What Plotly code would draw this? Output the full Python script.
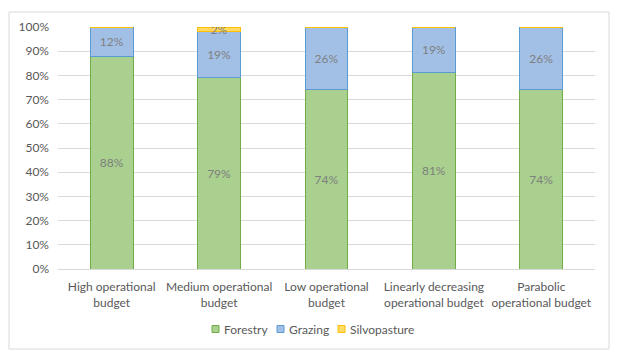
import plotly.graph_objects as go

categories = ["High operational<br>budget", "Medium operational<br>budget", "Low operational<br>budget",
              "Linearly decreasing<br>operational budget", "Parabolic<br>operational budget"]
forestry = [88, 79, 74, 81, 74]
grazing = [12, 19, 26, 19, 26]
silvopasture = [0, 2, 0, 0, 0]
y_ticks = list(range(0, 101, 10))
y_tick_labels = [f"{v}%" for v in y_ticks]

series = [
    ("Forestry", forestry, "#a9d08e", "#70ad47"),
    ("Grazing", grazing, "#a2c0e6", "#5b9bd5"),
    ("Silvopasture", silvopasture, "#ffd966", "#ffc000"),
]

FONT = "Lato"
GRAY = "#595959"

L, R, T, B = 58, 595, 27, 269
W, H = 621, 362
legend_square_px = [212, 277, 338]   # left edge of each legend key
LEG_Y = 329


def px_x(px):
    return (px - L) / (R - L)


def px_y(py):
    return (B - py) / (B - T)


fig = go.Figure()
shapes = [dict(type="rect", xref="paper", yref="paper",
               x0=px_x(9), x1=px_x(609), y0=px_y(349), y1=px_y(12),
               line=dict(color="#d9d9d9", width=1), fillcolor="rgba(0,0,0,0)",
               layer="below")]
annotations = []
for i, (name, vals, fill, line) in enumerate(series):
    fig.add_trace(go.Bar(
        x=categories, y=vals, name=name, showlegend=False,
        marker=dict(color=fill, line=dict(color=line, width=1)),
        text=[f"{v}%" if v > 0 else "" for v in vals],
        textposition="inside", insidetextanchor="middle",
        constraintext="none",
        textfont=dict(family=FONT, size=12, color="#7f7f7f"),
        hoverinfo="skip",
    ))
    sx = legend_square_px[i]
    shapes.append(dict(type="rect", xref="paper", yref="paper",
                       x0=px_x(sx), x1=px_x(sx + 7), y0=px_y(LEG_Y + 3.5), y1=px_y(LEG_Y - 3.5),
                       line=dict(color=line, width=1), fillcolor=fill))
    annotations.append(dict(text=name, xref="paper", yref="paper",
                            x=px_x(sx + 10), y=px_y(LEG_Y), xanchor="left", yanchor="middle",
                            showarrow=False, font=dict(family=FONT, size=12, color=GRAY)))

fig.update_layout(
    width=W, height=H,
    barmode="stack", bargap=0.6,
    margin=dict(l=L, r=W - R, t=T, b=H - B, autoexpand=False),
    plot_bgcolor="white", paper_bgcolor="white",
    font=dict(family=FONT, size=12, color=GRAY),
    showlegend=False,
    yaxis=dict(range=[0, 100], tickmode="array", tickvals=y_ticks, ticktext=y_tick_labels,
               showgrid=True, automargin=False, ticklabelstandoff=8,
               gridcolor="#d9d9d9", gridwidth=1, zeroline=False, showline=False,
               tickfont=dict(family=FONT, size=12, color=GRAY), ticks="", ticklen=0),
    xaxis=dict(showline=True, linecolor="#d9d9d9", linewidth=1, ticks="", automargin=False,
               ticklabelstandoff=7,
               tickfont=dict(family=FONT, size=12, color=GRAY)),
    shapes=shapes,
    annotations=annotations,
)
fig.write_html("out.html", config={"displayModeBar": False},
               post_script="document.body.style.margin='0';")
